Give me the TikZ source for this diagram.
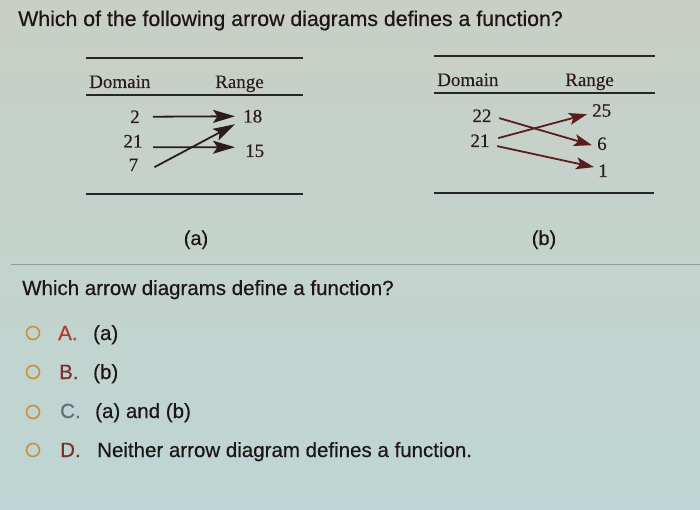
\documentclass[tikz,border=0pt]{standalone}
\usepackage{fontspec}
\setmainfont{Liberation Serif}[FakeBold=0.3]
\newfontfamily\uisans{Liberation Sans}[FakeBold=0.5]
\usetikzlibrary{arrows.meta}
\definecolor{bgtop}{HTML}{C9CFC5}
\definecolor{bgbot}{HTML}{BED6D4}
\definecolor{ink}{HTML}{1E1515}
\definecolor{dink}{HTML}{2B1C1A}
\definecolor{maroon}{HTML}{5A1C1C}
\definecolor{ring}{HTML}{C8903E}
\definecolor{divline}{HTML}{8C9C9A}
\definecolor{labA}{HTML}{B0382A}
\definecolor{labB}{HTML}{7E3030}
\definecolor{labC}{HTML}{5E6E7C}
\definecolor{labD}{HTML}{7E2E22}
\begin{document}
\begin{tikzpicture}[x=1pt,y=-1pt,
  title/.style={inner sep=0pt,anchor=base west,text=ink,font=\uisans\fontsize{21.3}{24}\selectfont},
  body/.style={inner sep=0pt,anchor=base west,text=ink,font=\uisans\fontsize{20.5}{24}\selectfont},
  dtext/.style={inner sep=0pt,text=dink,font=\fontsize{19}{22}\selectfont},
  rule/.style={line width=1.8pt,draw=black!85},
  arra/.style={line width=1.8pt,draw=dink,-{Stealth[length=22pt,width=13pt,inset=4.5pt]}},
  arrb/.style={line width=1.8pt,draw=maroon,-{Stealth[length=18pt,width=12pt,inset=4pt]}},
  radio/.style={circle,draw=ring,line width=1.6pt,minimum size=13pt,inner sep=0pt}]
\useasboundingbox (0,0) rectangle (700,510);
\shade[top color=bgtop,bottom color=bgbot] (0,0) rectangle (700,510);
% title
\node[title] (ttl) at (18,26) {Which of the following arrow diagrams defines a function?};
% diagram (a)
\draw[rule] (86,58) -- (303,58);
\draw[rule] (86,95) -- (303,95);
\draw[rule] (86,194) -- (303,194);
\node[dtext,anchor=base west] (domA) at (89,88) {Domain};
\node[dtext,anchor=base west] (ranA) at (215,88) {Range};
\node[dtext,anchor=base] (a2) at (135,123) {2};
\node[dtext,anchor=base] (a21) at (133,147.5) {21};
\node[dtext,anchor=base] (a7) at (133.5,171) {7};
\node[dtext,anchor=base west] (a18) at (243,122.5) {18};
\node[dtext,anchor=base west] (a15) at (245,157) {15};
\draw[arra] ([xshift=13pt]a2.east) -- ([xshift=-8pt]a18.west);
\draw[arra] ([xshift=10.5pt,yshift=-6pt]a21.east) -- ([xshift=-10pt,yshift=3.6pt]a15.west);
\draw[arra] ([xshift=16pt,yshift=-2.4pt]a7.east) -- ([xshift=-8pt,yshift=-8pt]a18.west);
% diagram (b)
\draw[rule] (434,56) -- (655,56);
\draw[rule] (434,93) -- (655,93);
\draw[rule] (434,193) -- (654,193);
\node[dtext,anchor=base west] (domB) at (437,86) {Domain};
\node[dtext,anchor=base west] (ranB) at (565,86) {Range};
\node[dtext,anchor=base] (b22) at (482,122) {22};
\node[dtext,anchor=base] (b21) at (480,147) {21};
\node[dtext,anchor=base west] (b25) at (592,116.7) {25};
\node[dtext,anchor=base west] (b6) at (597,150) {6};
\node[dtext,anchor=base west] (b1) at (598,177) {1};
\draw[arrb] ([xshift=7.5pt,yshift=-2.4pt]b22.east) -- ([xshift=-5pt,yshift=-1.4pt]b6.west);
\draw[arrb] ([xshift=8.5pt,yshift=2.6pt]b21.east) -- ([xshift=-5pt,yshift=-3.7pt]b25.west);
\draw[arrb] ([xshift=7.5pt,yshift=-5.4pt]b21.east) -- ([xshift=-4pt,yshift=3.6pt]b1.west);
% labels
\node[inner sep=0pt,anchor=base,text=ink,font=\uisans\fontsize{20}{24}\selectfont] (labA) at (196,245) {(a)};
\node[inner sep=0pt,anchor=base,text=ink,font=\uisans\fontsize{20}{24}\selectfont] (labB) at (544,245) {(b)};
\draw[line width=1pt,draw=divline] (11,264) -- (700,264);
% question
\node[body] (q) at (22,295) {Which arrow diagrams define a function?};
\node[radio] (cA) at (33,333) {};
\node[radio] (cB) at (33,372) {};
\node[radio] (cC) at (33,412) {};
\node[radio] (cD) at (33,450) {};
\node[body,text=labA] (lA) at (58,340) {A.};
\node[body,text=labB] (lB) at (59,379) {B.};
\node[body,text=labC] (lC) at (60,418) {C.};
\node[body,text=labD] (lD) at (60,457) {D.};
\node[body] (tA) at (93,340) {(a)};
\node[body] (tB) at (93,379) {(b)};
\node[body] (tC) at (95,418) {(a) and (b)};
\node[body] (tD) at (97,457) {Neither arrow diagram defines a function.};
\end{tikzpicture}
\end{document}
